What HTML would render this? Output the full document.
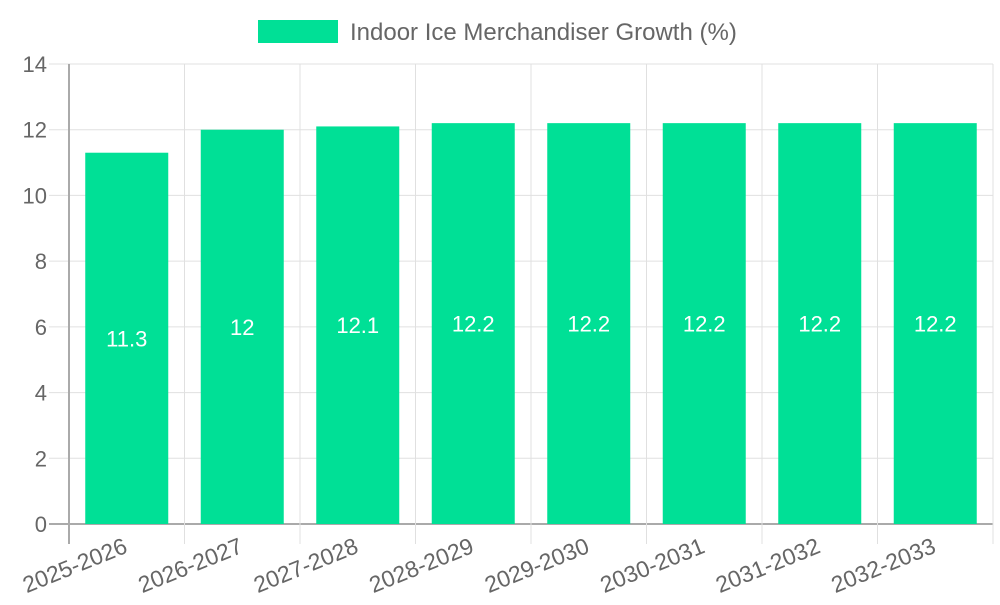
<!DOCTYPE html>
<html><head><meta charset="utf-8"><style>body{margin:0;background:#fff}svg{font-family:"Liberation Sans",sans-serif}</style></head>
<body>
<svg id="c" width="1000" height="600">
<rect x="258" y="20" width="80" height="23" fill="#00e096"/>
<text x="350" y="40" font-size="24" fill="#666">Indoor Ice Merchandiser Growth (%)</text>
<g id="grid"></g><g id="bars"></g><g id="labels"></g>
</svg>
<script>
const categories=["2025-2026","2026-2027","2027-2028","2028-2029","2029-2030","2030-2031","2031-2032","2032-2033"];
const values=[11.3,12,12.1,12.2,12.2,12.2,12.2,12.2];
const yTicks=[0,2,4,6,8,10,12,14];
const NS="http://www.w3.org/2000/svg";
const L=69,R=993,T=64,B=524,yMax=14;
const y=v=>B-(B-T)*v/yMax;
const bw=(R-L)/categories.length;
const x=i=>L+bw*i;
function mk(tag,attrs,parent,text){const e=document.createElementNS(NS,tag);for(const k in attrs)e.setAttribute(k,attrs[k]);if(text!==undefined)e.textContent=text;document.getElementById(parent).appendChild(e);return e;}
yTicks.forEach(t=>{
 const g=mk("line",{x1:49,x2:R,y1:y(t),y2:y(t),stroke:t===0?"#aaa":"#e0e0e0","stroke-width":t===0?2:1},"grid");
 
 
 const tx=mk("text",{x:47,y:y(t)+8,"text-anchor":"end","font-size":22,fill:"#666"},"grid",t);
 
 
});
for(let i=0;i<=categories.length;i++){
 const g=mk("line",{x1:x(i),x2:x(i),y1:T,y2:544,stroke:i===0?"#aaa":"#e0e0e0","stroke-width":i===0?2:1},"grid");
 
 
}
categories.forEach((c,i)=>{
 const cx=x(i)+bw/2,w=83;
 const r=mk("rect",{x:cx-w/2,y:y(values[i]),width:w,height:B-y(values[i]),fill:"#00e096"},"bars");
 
 
 const v=mk("text",{x:cx,y:(y(values[i])+B)/2+8,"text-anchor":"middle","font-size":22,fill:"#fff"},"labels",values[i]);
 
 
 const lx=cx+2,ly=552;
 const t=mk("text",{x:lx,y:ly,"text-anchor":"end","font-size":23,fill:"#666",transform:`rotate(-22 ${lx} ${ly})`},"labels",c);
 
 
});
</script>
</body></html>
